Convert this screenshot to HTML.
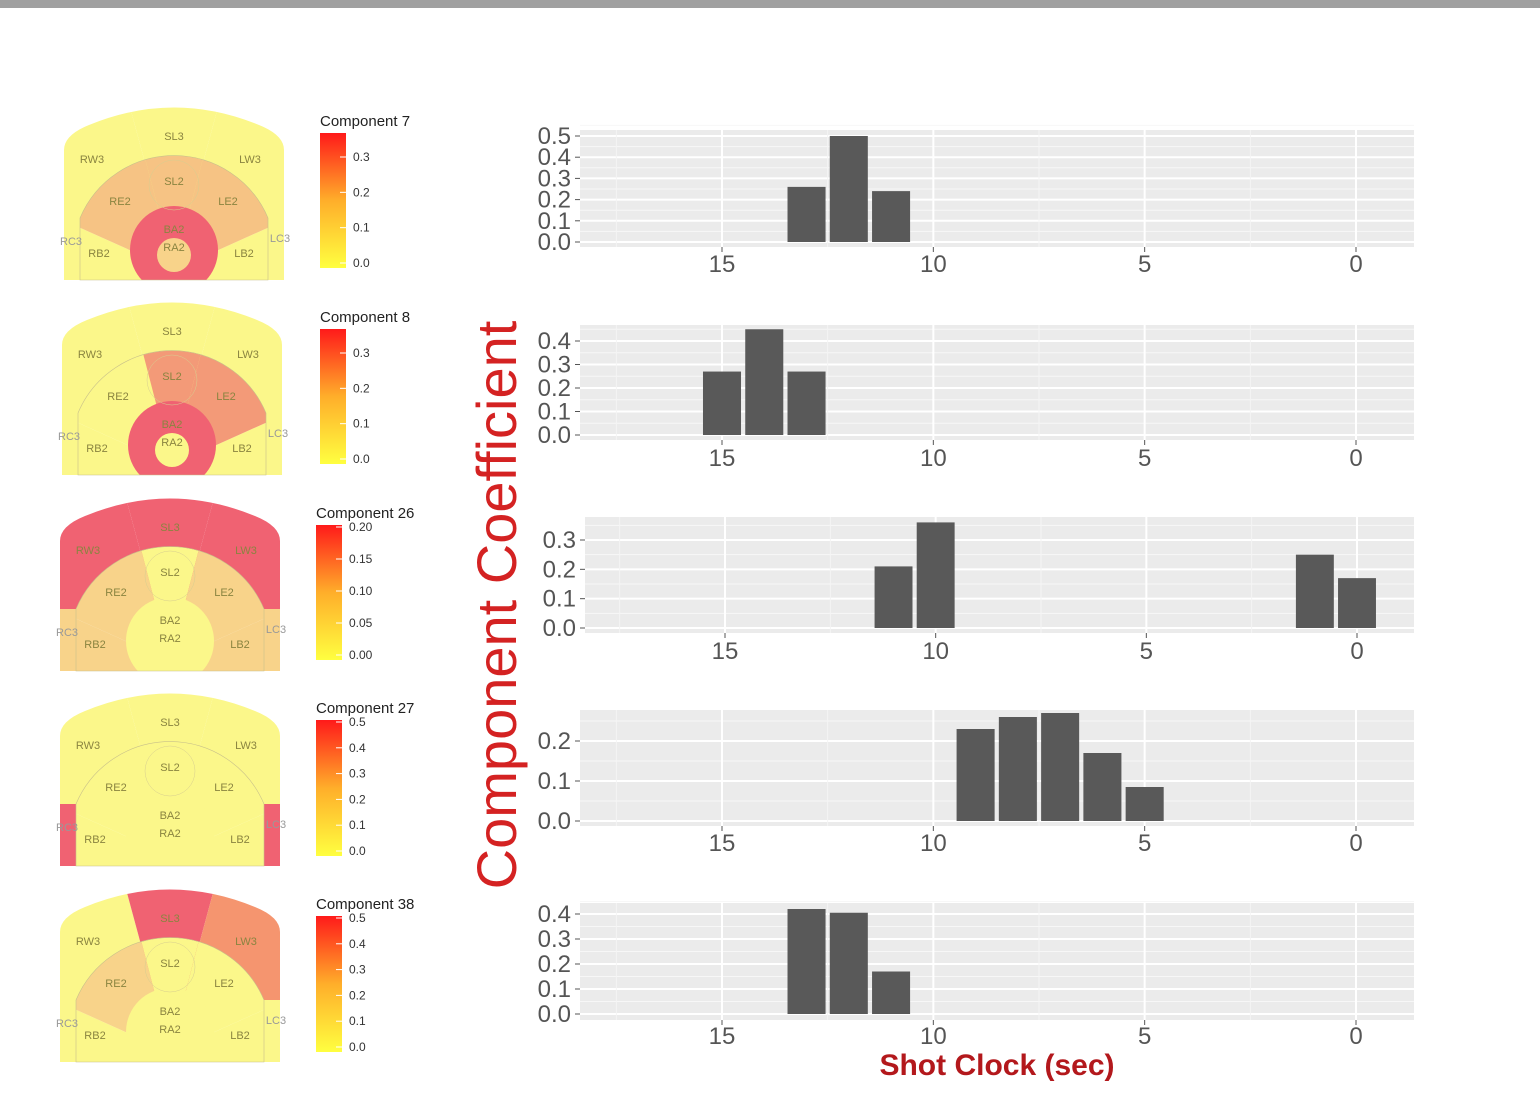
<!DOCTYPE html>
<html><head><meta charset="utf-8">
<style>
html,body{margin:0;padding:0;background:#fff;}
body{width:1540px;height:1120px;position:relative;overflow:hidden;font-family:"Liberation Sans",sans-serif;}
</style></head>
<body>
<div style="position:absolute;left:0;top:0;width:1540px;height:8px;background:#a0a0a0"></div>
<svg id="chart" width="1540" height="1120" style="position:absolute;left:0;top:0" xmlns="http://www.w3.org/2000/svg">
<defs>
<linearGradient id="cbar" x1="0" y1="1" x2="0" y2="0">
<stop offset="0" stop-color="#ffff40"/><stop offset="0.5" stop-color="#ffae2a"/><stop offset="1" stop-color="#ff1a1a"/>
</linearGradient>
</defs>
<g id="courts"></g>
<g id="bars"></g>
<text transform="translate(516,605) rotate(-90)" text-anchor="middle" font-size="56" fill="#d42222">Component Coefficient</text>
<text x="997" y="1075" text-anchor="middle" font-size="30" font-weight="bold" fill="#b3181c">Shot Clock (sec)</text>
</svg>
<script>
// ---- bar chart data ----
const p1Times = [13, 12, 11];
const p1Vals = [0.26, 0.50, 0.24];
const p2Times = [15, 14, 13];
const p2Vals = [0.27, 0.45, 0.27];
const p3Times = [11, 10, 1, 0];
const p3Vals = [0.21, 0.36, 0.25, 0.17];
const p4Times = [9, 8, 7, 6, 5];
const p4Vals = [0.23, 0.26, 0.27, 0.17, 0.085];
const p5Times = [13, 12, 11];
const p5Vals = [0.42, 0.405, 0.17];
const p1Ticks = ["0.0","0.1","0.2","0.3","0.4","0.5"];
const p2Ticks = ["0.0","0.1","0.2","0.3","0.4"];
const p3Ticks = ["0.0","0.1","0.2","0.3"];
const p4Ticks = ["0.0","0.1","0.2"];
const p5Ticks = ["0.0","0.1","0.2","0.3","0.4"];
const xTicks = [15, 10, 5, 0];
// ---- court / legend data ----
const compNames = ["Component 7","Component 8","Component 26","Component 27","Component 38"];
const leg1 = ["0.3","0.2","0.1","0.0"];
const leg2 = ["0.3","0.2","0.1","0.0"];
const leg3 = ["0.20","0.15","0.10","0.05","0.00"];
const leg4 = ["0.5","0.4","0.3","0.2","0.1","0.0"];
const leg5 = ["0.5","0.4","0.3","0.2","0.1","0.0"];

const NS = "http://www.w3.org/2000/svg";
function mk(tag, attrs, parent){const e=document.createElementNS(NS,tag);for(const k in attrs)e.setAttribute(k,attrs[k]);if(parent)parent.appendChild(e);return e;}

const layouts = [
 {x0:580,x1:1414,top:130,bot:247,base:242,topPx:136,x15:722,x0t:1356,lab:272},
 {x0:580,x1:1414,top:325,bot:440,base:435,topPx:341,x15:722,x0t:1356,lab:466},
 {x0:585,x1:1414,top:517,bot:633,base:628,topPx:540,x15:725,x0t:1357,lab:659},
 {x0:580,x1:1414,top:710,bot:826,base:821,topPx:741,x15:722,x0t:1356,lab:851},
 {x0:580,x1:1414,top:903,bot:1020,base:1014,topPx:914,x15:722,x0t:1356,lab:1044}
];
const panelTimes=[p1Times,p2Times,p3Times,p4Times,p5Times];
const panelVals=[p1Vals,p2Vals,p3Vals,p4Vals,p5Vals];
const panelTicks=[p1Ticks,p2Ticks,p3Ticks,p4Ticks,p5Ticks];
const barsG=document.getElementById('bars');
layouts.forEach((L,i)=>{
 const g=mk('g',{},barsG);
 
 
 const ticks=panelTicks[i];
 const topVal=parseFloat(ticks[ticks.length-1]);
 const ys=v=>L.base-(v/topVal)*(L.base-L.topPx);
 const ppsec=(L.x0t-L.x15)/15;
 const xs=t=>L.x15+(15-t)*ppsec;
 const bg=mk('rect',{x:L.x0,y:L.top,width:L.x1-L.x0,height:L.bot-L.top,fill:'#ebebeb'},g);
 
 
 const step=parseFloat(ticks[1]);
 for(let k=0;k<ticks.length;k++){
  const v=parseFloat(ticks[k]);
  mk('line',{x1:L.x0,x2:L.x1,y1:ys(v+step/2),y2:ys(v+step/2),stroke:'#f7f7f7','stroke-width':1},g);
  mk('line',{x1:L.x0,x2:L.x1,y1:ys(v),y2:ys(v),stroke:'#fff','stroke-width':2},g);
  const tl=mk('text',{x:L.x0-9,y:ys(v)+8,'text-anchor':'end','font-size':24,fill:'#555'},g);
  tl.textContent=ticks[k];
  
  
  mk('line',{x1:L.x0-5,x2:L.x0,y1:ys(v),y2:ys(v),stroke:'#555','stroke-width':1},g);
 }
 [17.5,12.5,7.5,2.5].forEach(t=>{ if(xs(t)>L.x0&&xs(t)<L.x1) mk('line',{x1:xs(t),x2:xs(t),y1:L.top,y2:L.bot,stroke:'#f5f5f5','stroke-width':1},g);});
 xTicks.forEach(t=>{
  mk('line',{x1:xs(t),x2:xs(t),y1:L.top,y2:L.bot,stroke:'#fff','stroke-width':2},g);
  mk('line',{x1:xs(t),x2:xs(t),y1:L.bot,y2:L.bot+5,stroke:'#555','stroke-width':1},g);
  const xl=mk('text',{x:xs(t),y:L.lab,'text-anchor':'middle','font-size':24,fill:'#555'},g);
  xl.textContent=String(t);
  
  
 });
 const bw=ppsec*0.9;
 panelTimes[i].forEach((t,j)=>{
  const v=panelVals[i][j];
  const r=mk('rect',{x:xs(t)-bw/2,y:ys(v),width:bw,height:ys(0)-ys(v),fill:'#595959'},g);
  
  
 });
});

// ---- courts ----
const Y='#fbf78a',O='#f6c384',R='#f06272',LO='#f8d38a',S='#f5956f',LS='#f39a78';
const courtColors=[
 {RC3:Y,RW3:Y,SL3:Y,LW3:Y,LC3:Y,RE2:O,SL2:O,LE2:O,RB2:Y,LB2:Y,BA2:R,RA2:LO},
 {RC3:Y,RW3:Y,SL3:Y,LW3:Y,LC3:Y,RE2:Y,SL2:LS,LE2:LS,RB2:Y,LB2:Y,BA2:R,RA2:Y},
 {RC3:LO,RW3:R,SL3:R,LW3:R,LC3:LO,RE2:LO,SL2:Y,LE2:LO,RB2:LO,LB2:LO,BA2:Y,RA2:Y},
 {RC3:R,RW3:Y,SL3:Y,LW3:Y,LC3:R,RE2:Y,SL2:Y,LE2:Y,RB2:Y,LB2:Y,BA2:Y,RA2:Y},
 {RC3:Y,RW3:Y,SL3:R,LW3:S,LC3:Y,RE2:LO,SL2:Y,LE2:Y,RB2:Y,LB2:Y,BA2:Y,RA2:Y}
];
const courtPos=[[64,105],[62,300],[60,496],[60,691],[60,887]];
const legs=[leg1,leg2,leg3,leg4,leg5];
const legBars=[[320,133,135],[320,329,135],[316,525,135],[316,720,136],[316,916,136]];
const courtsG=document.getElementById('courts');
courtPos.forEach((p,i)=>{
 const c=courtColors[i];
 const g=mk('g',{transform:`translate(${p[0]},${p[1]})`},courtsG);
 
 
 const outer='M0,175 L0,45 Q0,30 25,20 Q110,-15 195,20 Q220,30 220,45 L220,175 Z';
 const inner='M16,175 L16,113 A102,102 0 0 1 204,113 L204,175 Z';
 const cp1=mk('clipPath',{id:'co'+i},g); mk('path',{d:outer},cp1);
 const cp2=mk('clipPath',{id:'ci'+i},g); mk('path',{d:inner},cp2);
 const go=mk('g',{'clip-path':`url(#co${i})`},g);
 mk('rect',{x:0,y:113,width:16,height:62,fill:c.RC3},go);
 mk('rect',{x:204,y:113,width:16,height:62,fill:c.LC3},go);
 mk('polygon',{points:'110,165 60,-20 -20,-20 -20,113 16,113',fill:c.RW3},go);
 mk('polygon',{points:'110,165 60,-20 160,-20',fill:c.SL3},go);
 mk('polygon',{points:'110,165 160,-20 240,-20 240,113 204,113',fill:c.LW3},go);
 const gi=mk('g',{'clip-path':`url(#ci${i})`},g);
 mk('polygon',{points:'110,165 10,120 10,200 110,200',fill:c.RB2},gi);
 mk('polygon',{points:'110,165 210,120 210,200 110,200',fill:c.LB2},gi);
 mk('polygon',{points:'110,165 62,-20 0,-20 0,120 10,120',fill:c.RE2},gi);
 mk('polygon',{points:'110,165 62,-20 158,-20',fill:c.SL2},gi);
 mk('polygon',{points:'110,165 158,-20 220,-20 220,120 210,120',fill:c.LE2},gi);
 const gc=mk('g',{'clip-path':`url(#co${i})`},g);
 mk('circle',{cx:110,cy:145,r:44,fill:c.BA2},gc);
 mk('circle',{cx:110,cy:150,r:17,fill:c.RA2},gc);
 mk('path',{d:inner,fill:'none',stroke:'#c8c08a','stroke-width':0.6},g);
 mk('circle',{cx:110,cy:80,r:25,fill:'none',stroke:'#d8cf90','stroke-width':0.5},g);
 const labs=[['SL3',110,35],['RW3',28,58],['LW3',186,58],['SL2',110,80],['RE2',56,100],['LE2',164,100],['BA2',110,128],['RA2',110,146],['RB2',35,152],['LB2',180,152],['RC3',7,140],['LC3',216,137]];
 labs.forEach(l=>{
  const t=mk('text',{x:l[1],y:l[2],'text-anchor':'middle','font-size':11,fill:(l[0]==='RC3'||l[0]==='LC3')?'#999':'#8a8440'},g);
  t.textContent=l[0];
  
  
 });
 const lb=legBars[i];
 const lg=mk('g',{},courtsG);
 
 
 const tt=mk('text',{x:lb[0],y:lb[1]-7,'font-size':15,fill:'#222'},lg);
 tt.textContent=compNames[i];
 
 
 mk('rect',{x:lb[0],y:lb[1],width:26,height:lb[2],fill:'url(#cbar)'},lg);
 const L=legs[i], n=L.length;
 const topOff=(i>=2)?2:24, botOff=5;
 L.forEach((s,k)=>{
  const yy=lb[1]+topOff+(lb[2]-topOff-botOff)*k/(n-1);
  mk('line',{x1:lb[0]+20,x2:lb[0]+26,y1:yy,y2:yy,stroke:'#fff','stroke-width':1},lg);
  const t=mk('text',{x:lb[0]+33,y:yy+4,'font-size':12,fill:'#333'},lg);
  t.textContent=s;
  
  
 });
});
</script>
</body></html>
